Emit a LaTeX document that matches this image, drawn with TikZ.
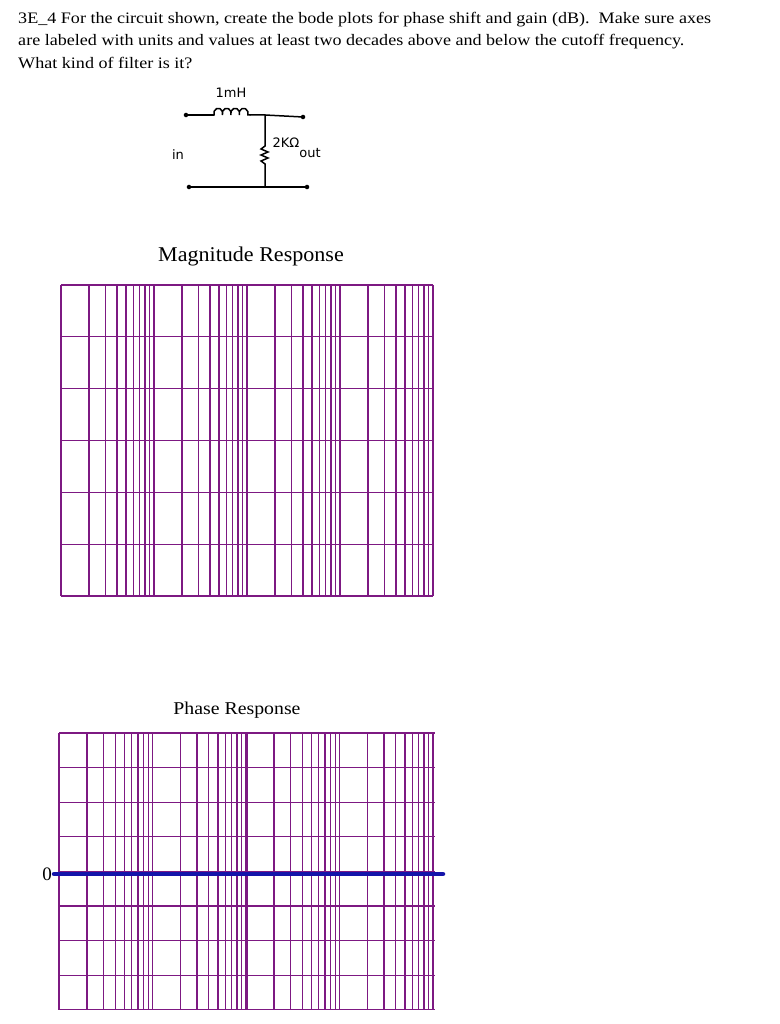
\documentclass[tikz,border=0pt]{standalone}
\usepackage{fontspec}
\setmainfont{Liberation Serif}
\newfontfamily\hand{DejaVu Sans}
\definecolor{gridc}{RGB}{125,25,130}
\definecolor{bluec}{RGB}{20,20,170}
\tikzset{gl/.style={draw=gridc,line width=1.3pt},
 wire/.style={line width=1.5pt,line cap=round},
 dotc/.style={circle,fill=black,inner sep=1.6pt},
 lbl/.style={font=\hand\fontsize{13}{14}\selectfont,inner sep=0}}
\begin{document}
\begin{tikzpicture}[x=1pt,y=-1pt]
\useasboundingbox (0,0) rectangle (779,1024);
\node[anchor=north west,align=left,inner sep=0,font=\fontsize{16}{22.5}\selectfont,xscale=1.13] (title) at (18,12) {3E\_4 For the circuit shown, create the bode plots for phase shift and gain (dB).\ \ Make sure axes\\are labeled with units and values at least two decades above and below the cutoff frequency.\\What kind of filter is it?};
% circuit
\coordinate (a) at (186,115); \coordinate (l1) at (214,115); \coordinate (l2) at (250,115);
\coordinate (j) at (265,115); \coordinate (b) at (303,117);
\coordinate (r1) at (265,146); \coordinate (r2) at (265,166); \coordinate (jb) at (265,186);
\coordinate (c) at (189,187); \coordinate (d) at (307,187);
\draw[wire] (a) -- (l1);
\draw[wire] (l1) \foreach \i in {0,1,2,3}{ arc[start angle=200,end angle=-20,x radius=4.5,y radius=-5] } -- (l2);
\draw[wire] (l2) -- (j) -- (b);
\draw[wire] (j) -- (r1) -- ++(-4,3) -- ++(7,3) -- ++(-7,3) -- ++(7,3) -- ++(-7,3) -- ++(4,3) -- (jb);
\draw[wire] (c) -- (d);
\node[dotc] at (a) {}; \node[dotc] at (b) {}; \node[dotc] at (c) {}; \node[dotc] at (d) {};
\node[lbl] (lmh) at (231,93) {1mH};
\node[lbl] (lin) at (178,155) {in};
\node[lbl] (lr) at (286,143) {2KΩ};
\node[lbl] (lout) at (310,153) {out};
% Magnitude
\node[font=\fontsize{21}{22}\selectfont,xscale=1.05] (mt) at (251,256) {Magnitude Response};
\foreach \d in {0,1,2,3}{
  \foreach \k in {1,...,9}{
    \draw[gl] ({61+93*\d+93*log10(\k)},285) -- ({61+93*\d+93*log10(\k)},596);
  }}
\draw[gl] (433,285) -- (433,596);
\foreach \r in {0,...,6}{ \draw[gl] (61,{285+\r*51.83}) -- (433,{285+\r*51.83}); }
% Phase
\node[font=\fontsize{18}{20}\selectfont,xscale=1.1] (pt) at (237,710) {Phase Response};
\foreach \d in {0,1,2,3}{
  \foreach \k in {1,...,9}{
    \draw[gl] ({59+93.5*\d+93.5*log10(\k)},733) -- ({59+93.5*\d+93.5*log10(\k)},1010);
  }}
\draw[gl] (433,733) -- (433,1010);
\draw[gl,line width=2pt] (247,733) -- (247,1010);
\foreach \r in {0,...,8}{ \draw[gl] (59,{733+\r*34.6}) -- (435,{733+\r*34.6}); }
\draw[bluec,line width=4.5pt,line cap=round] (54,874) coordinate (z0) -- (443,874) coordinate (z1);
\node[font=\fontsize{19}{20}\selectfont,anchor=east,inner sep=2pt] (zero) at (z0) {0};
\end{tikzpicture}
\end{document}
